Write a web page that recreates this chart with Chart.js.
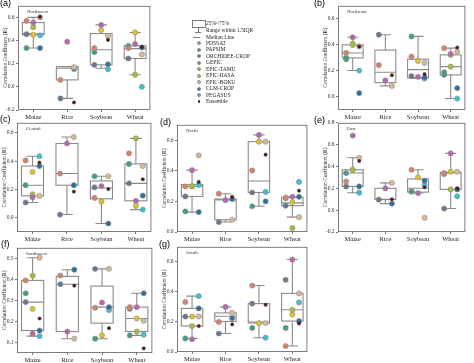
<!DOCTYPE html>
<html>
<head>
<meta charset="utf-8">
<script src="https://cdn.jsdelivr.net/npm/chart.js@4.4.1/dist/chart.umd.min.js"></script>
<style>
  html, body { margin: 0; padding: 0; background: #fff; }
  body { position: relative; width: 474px; height: 363px; overflow: hidden; }
  canvas { position: absolute; }
  .plabel { position: absolute; font: 9px 'Liberation Sans', Arial, sans-serif; color: #000; line-height: 10px; }
  .lg { position: absolute; font: 5.5px 'Liberation Serif', serif; color: #222; line-height: 7px; white-space: nowrap; }
  .ln { position: absolute; background: #7a7a7a; }
  .dot { position: absolute; border-radius: 50%; box-sizing: border-box; border: 0.6px solid #8f8f8f; }
</style>
</head>
<body>
<script>
// models in legend order, one row per model in every points table
const models = ['PDSSAT', 'PAPSIM', 'ORCHIDEE-CROP', 'GEPIC', 'EPIC-TAMU', 'EPIC-IIASA', 'EPIC-BOKU', 'CLM-CROP', 'PEGASUS', 'Ensemble'];
const modelColors = ['#d9826b', '#3f9e86', '#67788f', '#b566ad', '#a6bd3a', '#e0c22a', '#d5bb95', '#2f6f9e', '#3cc0cf', '#4a2020'];
const modelColumn = [-1, -1, -1, 0, 0, 0, 1, 1, 1, 1];
const crops = ['Maize', 'Rice', 'Soybean', 'Wheat'];

// columns: Maize, Rice, Soybean, Wheat
const nwPts = [
  [0.57, 0.06, 0.335, 0.335], [0.335, null, 0.30, 0.355], [0.455, -0.10, 0.19, 0.245],
  [0.555, 0.39, 0.535, 0.37], [0.515, null, null, 0.105], [0.45, null, 0.49, 0.47],
  [0.60, 0.17, 0.44, 0.28], [0.335, 0.155, 0.195, 0.34], [0.445, null, 0.153, 0.0],
  [0.605, -0.135, 0.405, 0.345]
];
// [whisker low, q1, median, q3, whisker high]
const nwBox = [[0.335, 0.45, 0.46, 0.555, 0.60], [-0.10, 0.06, 0.16, 0.175, 0.175], [0.16, 0.19, 0.32, 0.46, 0.535], [0.105, 0.245, 0.33, 0.355, 0.47]];
const nwTicks = [-0.2, 0, 0.2, 0.4, 0.6];

const nePts = [
  [0.338, 0.245, 0.31, 0.375], [0.30, null, 0.465, 0.19], [0.29, 0.478, 0.16, 0.17],
  [0.458, 0.127, 0.155, 0.33], [0.40, null, null, 0.233], [0.41, null, 0.277, 0.323],
  [0.39, 0.085, 0.262, 0.348], [0.03, null, 0.15, 0.068], [0.203, null, 0.142, -0.012],
  [0.387, 0.167, 0.176, 0.38]
];
const neBox = [[0.203, 0.30, 0.338, 0.40, 0.458], [0.085, 0.11, 0.19, 0.36, 0.478], [0.142, 0.147, 0.21, 0.29, 0.465], [-0.012, 0.17, 0.233, 0.323, 0.375]];
const neTicks = [0, 0.2, 0.4, 0.6];

const cenPts = [
  [0.405, 0.312, 0.14, 0.455], [0.23, null, 0.293, 0.38], [0.108, 0.023, 0.215, 0.243],
  [0.145, 0.524, 0.224, 0.12], [0.166, null, null, 0.56], [0.323, null, 0.115, 0.085],
  [0.155, 0.57, 0.293, 0.365], [0.365, 0.23, -0.04, 0.157], [0.434, null, null, 0.058],
  [0.39, 0.185, 0.203, 0.272]
];
const cenBox = [[0.108, 0.155, 0.23, 0.365, 0.434], [0.023, 0.23, 0.312, 0.524, 0.57], [-0.04, 0.134, 0.21, 0.26, 0.293], [0.058, 0.12, 0.243, 0.38, 0.56]];
const cenTicks = [0, 0.2, 0.4, 0.6];

const nPts = [
  [0.297, 0.25, 0.402, 0.225], [0.135, null, 0.168, 0.22], [0.232, 0.065, 0.258, 0.172],
  [0.404, 0.208, 0.634, 0.23], [0.30, null, null, 0.026], [0.297, null, 0.59, 0.194],
  [0.50, 0.08, 0.59, 0.097], [0.13, 0.215, 0.20, 0.23], [0.307, null, 0.262, 0.327],
  [0.327, 0.23, 0.505, 0.27]
];
const nBox = [[0.13, 0.232, 0.297, 0.31, 0.404], [0.065, 0.08, 0.21, 0.215, 0.25], [0.168, 0.258, 0.333, 0.59, 0.634], [0.097, 0.172, 0.19, 0.226, 0.23]];
const nTicks = [0, 0.2, 0.4, 0.6];

const ePts = [
  [0.262, null, 0.37, 0.34], [0.34, null, 0.17, 0.33], [0.217, 0.097, 0.172, 0.015],
  [0.683, 0.20, 0.157, 0.52], [0.37, null, null, 0.19], [0.37, null, 0.30, 0.352],
  [0.48, 0.25, -0.07, 0.352], [0.217, 0.06, 0.27, 0.19], [0.16, null, 0.232, 0.127],
  [0.45, 0.10, 0.21, 0.20]
];
const eBox = [[0.16, 0.217, 0.34, 0.37, 0.48], [0.06, 0.097, 0.10, 0.20, 0.25], [0.157, 0.165, 0.20, 0.286, 0.37], [0.015, 0.19, 0.34, 0.346, 0.52]];
const eTicks = [-0.2, 0, 0.2, 0.4, 0.6, 0.8];

const swPts = [
  [0.395, 0.418, 0.265, 0.268], [0.334, null, 0.118, 0.134], [0.292, 0.377, 0.45, 0.26],
  [0.142, 0.152, 0.29, 0.268], [0.418, null, null, 0.152], [0.26, null, 0.134, 0.214],
  [0.503, 0.118, 0.45, 0.203], [0.157, 0.446, 0.268, 0.334], [0.13, null, 0.254, 0.137],
  [0.214, 0.37, 0.168, 0.072]
];
const swBox = [[0.13, 0.157, 0.292, 0.395, 0.503], [0.118, 0.152, 0.377, 0.414, 0.446], [0.118, 0.192, 0.268, 0.368, 0.45], [0.134, 0.152, 0.214, 0.268, 0.334]];
const swTicks = [0.1, 0.2, 0.3, 0.4, 0.5];

const sPts = [
  [0.333, 0.20, 0.442, 0.04], [0.09, null, 0.16, 0.16], [0.236, 0.123, 0.322, 0.48],
  [0.085, 0.30, null, 0.615], [0.173, null, null, 0.281], [0.236, null, 0.193, 0.249],
  [0.236, 0.26, 0.193, 0.39], [0.29, 0.225, null, 0.206], [0.372, null, 0.095, 0.33],
  [0.173, 0.184, 0.314, 0.19]
];
const sBox = [[0.09, 0.173, 0.236, 0.29, 0.372], [0.123, 0.203, 0.238, 0.26, 0.30], [0.095, 0.193, 0.20, 0.322, 0.442], [0.04, 0.206, 0.281, 0.39, 0.615]];
const sTicks = [0, 0.2, 0.4, 0.6];

// frame = plot area in page pixels: left, top, right, bottom
const panels = [
  { tag: '(a)', region: 'Northwest', pts: nwPts, box: nwBox, ticks: nwTicks, ymin: -0.2, ymax: 0.7, frame: [18, 3, 152, 110], lab: [0, -2] },
  { tag: '(b)', region: 'Northeast', pts: nePts, box: neBox, ticks: neTicks, ymin: -0.1, ymax: 0.7, frame: [338, 3, 467, 110], lab: [314, -2] },
  { tag: '(c)', region: 'Central', pts: cenPts, box: cenBox, ticks: cenTicks, ymin: -0.1, ymax: 0.67, frame: [17, 120, 153, 232], lab: [0, 114] },
  { tag: '(d)', region: 'North', pts: nPts, box: nBox, ticks: nTicks, ymin: 0, ymax: 0.7, frame: [177, 122, 309, 232], lab: [160, 117] },
  { tag: '(e)', region: 'East', pts: ePts, box: eBox, ticks: eTicks, ymin: -0.2, ymax: 0.8, frame: [338, 120, 467, 232], lab: [314, 115] },
  { tag: '(f)', region: 'Southwest', pts: swPts, box: swBox, ticks: swTicks, ymin: 0.05, ymax: 0.55, frame: [17, 245, 154, 353], lab: [1, 239] },
  { tag: '(g)', region: 'South', pts: sPts, box: sBox, ticks: sTicks, ymin: 0, ymax: 0.7, frame: [177, 244, 309, 352], lab: [159, 239] }
];

const SERIF = "'Liberation Serif', 'Times New Roman', serif";
const LINE = '#8a8a8a';

const boxPlugin = {
  id: 'boxplot',
  beforeDatasetsDraw(chart, args, opts) {
    const { ctx, scales: { x, y } } = chart;
    ctx.save();
    ctx.strokeStyle = LINE;
    ctx.lineWidth = 1.1;
    opts.stats.forEach((s, i) => {
      const [lo, q1, med, q3, hi] = s;
      const xl = x.getPixelForValue(i - 0.32), xr = x.getPixelForValue(i + 0.32);
      const cl = x.getPixelForValue(i - 0.17), cr = x.getPixelForValue(i + 0.17);
      const xc = x.getPixelForValue(i);
      ctx.beginPath();
      ctx.moveTo(xc, y.getPixelForValue(hi)); ctx.lineTo(xc, y.getPixelForValue(q3));
      ctx.moveTo(xc, y.getPixelForValue(q1)); ctx.lineTo(xc, y.getPixelForValue(lo));
      ctx.moveTo(cl, y.getPixelForValue(hi)); ctx.lineTo(cr, y.getPixelForValue(hi));
      ctx.moveTo(cl, y.getPixelForValue(lo)); ctx.lineTo(cr, y.getPixelForValue(lo));
      ctx.moveTo(xl, y.getPixelForValue(med)); ctx.lineTo(xr, y.getPixelForValue(med));
      ctx.stroke();
      ctx.strokeRect(xl, y.getPixelForValue(q3), xr - xl, y.getPixelForValue(q1) - y.getPixelForValue(q3));
    });
    ctx.restore();
  },
  afterDraw(chart, args, opts) {
    const { ctx, chartArea: a } = chart;
    ctx.save();
    ctx.strokeStyle = '#6f6f6f';
    ctx.lineWidth = 0.9;
    ctx.strokeRect(a.left + 0.5, a.top + 0.5, a.right - a.left - 1, a.bottom - a.top - 1);
    ctx.fillStyle = '#333';
    ctx.font = '5px ' + SERIF;
    ctx.textBaseline = 'top';
    ctx.fillText(opts.region, a.left + 9, a.top + 3);
    ctx.restore();
  }
};

function makePanel(p) {
  const [fl, ft, fr, fb] = p.frame;
  const left = fl - 17, top = ft - 2;
  const cv = document.createElement('canvas');
  cv.width = fr - left + 3;
  cv.height = fb - top + 11;
  cv.style.left = left + 'px';
  cv.style.top = top + 'px';
  document.body.appendChild(cv);

  const datasets = models.map((m, k) => ({
    label: m,
    data: crops.map((c, i) => ({ x: i + modelColumn[k] * 0.2, y: p.pts[k][i] })).filter(d => d.y != null),
    backgroundColor: modelColors[k],
    borderColor: k === 9 ? modelColors[k] : '#8f8f8f',
    borderWidth: 0.6,
    pointRadius: k === 9 ? 1.6 : 2.6,
    order: k === 9 ? -1 : 0
  }));

  new Chart(cv, {
    type: 'scatter',
    data: { datasets },
    options: {
      responsive: false,
      animation: false,
      events: [],
      layout: { padding: { top: 2, right: 3, left: 0, bottom: 1 } },
      plugins: {
        legend: { display: false },
        tooltip: { enabled: false },
        boxplot: { stats: p.box, region: p.region }
      },
      scales: {
        x: {
          type: 'linear', min: -0.45, max: 3.45,
          afterBuildTicks: s => { s.ticks = crops.map((c, i) => ({ value: i })); },
          afterFit: s => { s.height = 10; },
          ticks: { callback: v => crops[v], font: { family: SERIF, size: 6.5 }, color: '#222', padding: 1, autoSkip: false, maxRotation: 0 },
          grid: { drawOnChartArea: false, tickLength: 2, color: '#777' },
          border: { display: false }
        },
        y: {
          type: 'linear', min: p.ymin, max: p.ymax,
          afterBuildTicks: s => { s.ticks = p.ticks.map(v => ({ value: v })); },
          afterFit: s => { s.width = 17; },
          ticks: { callback: v => v.toFixed(1), font: { family: SERIF, size: 5.5 }, color: '#333', padding: 1.5, autoSkip: false },
          grid: { drawOnChartArea: false, tickLength: 2, color: '#777' },
          border: { display: false },
          title: { display: true, text: 'Correlation Coefficient (R)', font: { family: SERIF, size: 5.5 }, color: '#222', padding: 1 }
        }
      }
    },
    plugins: [boxPlugin]
  });

  const lab = document.createElement('div');
  lab.className = 'plabel';
  lab.textContent = p.tag;
  lab.style.left = p.lab[0] + 'px';
  lab.style.top = p.lab[1] + 'px';
  document.body.appendChild(lab);
}

function el(cls, x, y, w, h, text) {
  const d = document.createElement('div');
  d.className = cls;
  d.style.left = x + 'px';
  d.style.top = y + 'px';
  if (w != null) d.style.width = w + 'px';
  if (h != null) d.style.height = h + 'px';
  if (text) d.textContent = text;
  document.body.appendChild(d);
  return d;
}

function makeLegend() {
  const bx = el('ln', 192, 20, 12, 6);
  bx.style.background = 'transparent';
  bx.style.border = '1px solid #7a7a7a';
  el('ln', 197.5, 27, 1, 5);
  el('ln', 195, 31.5, 6, 1);
  el('ln', 193, 37, 7, 1);
  el('lg', 206, 19.5, null, null, '25%~75%');
  el('lg', 206, 26.5, null, null, 'Range within 1.5IQR');
  el('lg', 206, 33.5, null, null, 'Median Line');
  models.forEach((m, k) => {
    const cy = 43 + k * 6.5;
    const r = k === 9 ? 1.2 : 2;
    const d = el('dot', 199 - r, cy - r, r * 2, r * 2);
    d.style.background = modelColors[k];
    if (k === 9) d.style.border = 'none';
    el('lg', 206, cy - 3.5, null, null, m);
  });
}

panels.forEach(makePanel);
makeLegend();
</script>
</body>
</html>
